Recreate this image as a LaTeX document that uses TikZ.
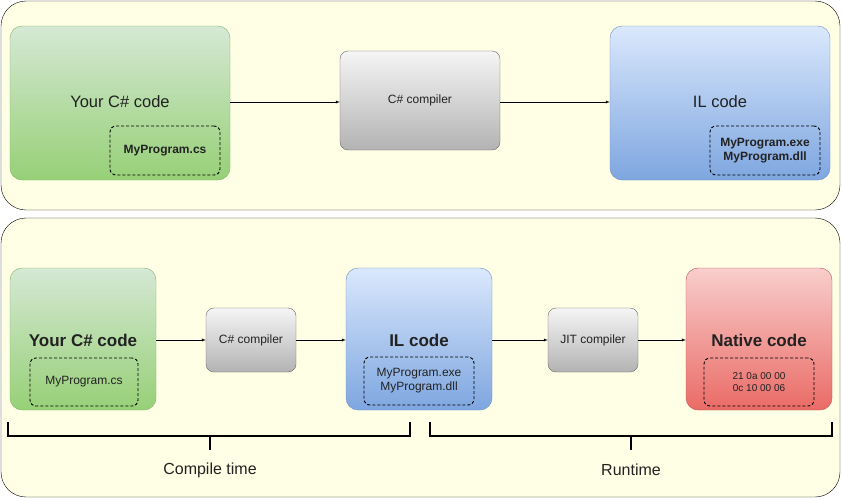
\documentclass[tikz,border=0pt]{standalone}
\usepackage{fontspec}
\setmainfont{Liberation Sans}
\usetikzlibrary{calc}
\definecolor{panelfill}{HTML}{FFFFE6}
\definecolor{greenA}{HTML}{D5E8D4}\definecolor{greenB}{HTML}{97D077}\definecolor{greenL}{HTML}{82B366}
\definecolor{blueA}{HTML}{DAE8FC}\definecolor{blueB}{HTML}{7EA6E0}\definecolor{blueL}{HTML}{6C8EBF}
\definecolor{grayA}{HTML}{F5F5F5}\definecolor{grayB}{HTML}{B3B3B3}\definecolor{grayL}{HTML}{666666}
\definecolor{redA}{HTML}{F8CECC}\definecolor{redB}{HTML}{EA6B66}\definecolor{redL}{HTML}{B85450}
\definecolor{txt}{HTML}{222222}
\tikzset{
  box/.style={draw, rounded corners=12pt, inner sep=0pt},
  greenbox/.style={box, draw=greenL, top color=greenA, bottom color=greenB},
  bluebox/.style={box, draw=blueL, top color=blueA, bottom color=blueB},
  graybox/.style={box, rounded corners=8pt, draw=grayL, top color=grayA, bottom color=grayB},
  redbox/.style={box, draw=redL, top color=redA, bottom color=redB},
  file/.style={draw=black, line width=0.9pt, dash pattern=on 3pt off 2pt, rounded corners=6pt, align=center, inner sep=0pt},
  arr/.style={-latex}
}
\begin{document}
\begin{tikzpicture}[x=1pt,y=-1pt, every node/.append style={text=txt}]
\useasboundingbox (0,0) rectangle (842,499);
% panels
\draw[fill=panelfill, rounded corners=25pt] (1,1) rectangle (840,210);
\draw[fill=panelfill, rounded corners=25pt] (1,218) rectangle (840,497);
% top row
\node[greenbox, minimum width=220pt, minimum height=154pt] (src) at (120,103) {};
\node[font=\fontsize{16.5}{18}\selectfont] (srcT) at (120,102) {Your C\# code};
\node[file, minimum width=110pt, minimum height=49pt, font=\bfseries\fontsize{12}{14}\selectfont] (srcF) at (165,150.5) {MyProgram.cs};
\node[graybox, minimum width=160pt, minimum height=99pt, font=\fontsize{12}{14}\selectfont] (comp) at (420,100.5) {C\# compiler};
\node[bluebox, minimum width=220pt, minimum height=154pt] (il) at (720,103) {};
\node[font=\fontsize{16.5}{18}\selectfont] (ilT) at (720,102) {IL code};
\node[file, minimum width=110pt, minimum height=49pt, font=\bfseries\fontsize{12}{14}\selectfont] (ilF) at (765,150.5) {MyProgram.exe\\MyProgram.dll};
\draw[arr] (src.east |- 0,102) -- (comp.west |- 0,102);
\draw[arr] (comp.east |- 0,102) -- (il.west |- 0,102);
% bottom row
\node[greenbox, minimum width=146pt, minimum height=142pt] (src2) at (83,339) {};
\node[font=\bfseries\fontsize{17}{18}\selectfont] (src2T) at (83,340) {Your C\# code};
\node[file, minimum width=108pt, minimum height=48pt, font=\fontsize{12}{14}\selectfont] (src2F) at (84,382) {MyProgram.cs};
\node[graybox, minimum width=90pt, minimum height=64pt, font=\fontsize{12}{14}\selectfont] (comp2) at (251,340) {C\# compiler};
\node[bluebox, minimum width=146pt, minimum height=142pt] (il2) at (419,339) {};
\node[font=\bfseries\fontsize{17}{18}\selectfont] (il2T) at (419,340) {IL code};
\node[file, minimum width=110pt, minimum height=48pt, font=\fontsize{12}{14}\selectfont] (il2F) at (419,381) {MyProgram.exe\\MyProgram.dll};
\node[graybox, minimum width=90pt, minimum height=64pt, font=\fontsize{12}{14}\selectfont] (jit) at (593,340) {JIT compiler};
\node[redbox, minimum width=146pt, minimum height=142pt] (nat) at (759,339) {};
\node[font=\bfseries\fontsize{17}{18}\selectfont] (natT) at (759,340) {Native code};
\node[file, minimum width=110pt, minimum height=48pt, font=\fontsize{10}{12}\selectfont] (natF) at (759,382) {21 0a 00 00\\0c 10 00 06};
\draw[arr] (src2.east |- 0,340) -- (comp2.west);
\draw[arr] (comp2.east) -- (il2.west |- 0,340);
\draw[arr] (il2.east |- 0,340) -- (jit.west);
\draw[arr] (jit.east) -- (nat.west |- 0,340);
% brackets
\draw[line width=1.5pt] (8,422) -- (8,436) -- (410,436) -- (410,422) (210,436) -- (210,450);
\draw[line width=1.5pt] (430,422) -- (430,436) -- (832,436) -- (832,422) (631,436) -- (631,450);
\node[font=\fontsize{16}{18}\selectfont] (ct) at (210,470) {Compile time};
\node[font=\fontsize{16}{18}\selectfont] (rt) at (631,470) {Runtime};
\end{tikzpicture}
\end{document}
